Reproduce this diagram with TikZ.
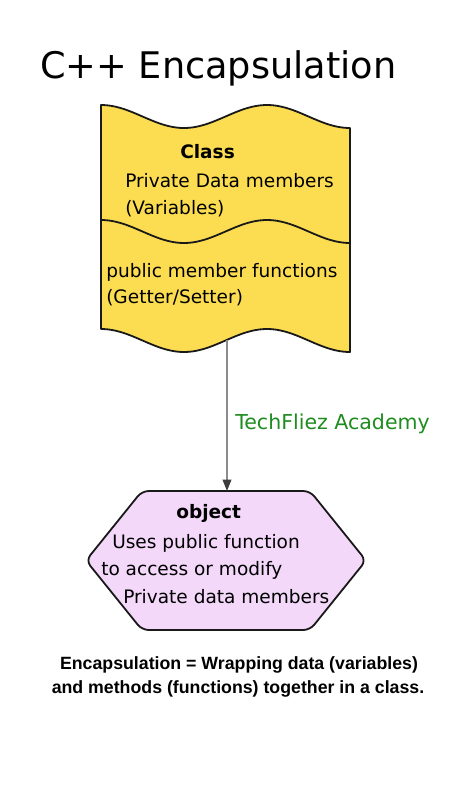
\documentclass[tikz,border=0pt]{standalone}
\usepackage{fontspec}
\setmainfont{DejaVu Sans}
\newfontfamily\libsans{Liberation Sans}
\usetikzlibrary{arrows.meta}
\definecolor{classfill}{RGB}{252,221,82}
\definecolor{objfill}{RGB}{243,216,250}
\definecolor{labelgreen}{RGB}{30,140,30}
\definecolor{linkgray}{RGB}{140,140,140}
\definecolor{tipgray}{RGB}{60,60,60}
\begin{document}
\begin{tikzpicture}[x=0.75pt,y=-0.75pt,
  txt/.style={anchor=base west,inner sep=0pt,font=\fontsize{13.9}{16}\selectfont},
  btxt/.style={txt,font=\bfseries\fontsize{13.9}{16}\selectfont},
  shapeline/.style={draw=black!90,line width=1.35pt,line join=round},
  foot/.style={anchor=base,inner sep=0pt,font=\libsans\bfseries\fontsize{13.3}{16}\selectfont},
  link/.style={draw=linkgray,line width=1.1pt,-{Triangle[length=8.5pt,width=6.5pt,color=tipgray]}}]
\useasboundingbox (0,0) rectangle (474,790);
% title
\node[anchor=base west,inner sep=0pt,font=\fontsize{27.5}{32}\selectfont] (title) at (40,78) {C++ Encapsulation};
% class shape
\path[fill=classfill,shapeline]
  plot[domain=101:350,samples=80] (\x,{105+11.5*(1-cos(2.1687*(\x-101)))})
  -- plot[domain=350:101,samples=80] (\x,{329+11.5*(1-cos(2.1687*(\x-101)))})
  -- cycle;
\draw[shapeline] plot[domain=101:350,samples=80] (\x,{220+11.5*(1-cos(2.1687*(\x-101)))});
\node[btxt] (cls) at (180,158) {Class};
\node[txt] (priv1) at (125,187) {Private Data members};
\node[txt] (priv2) at (125,214) {(Variables)};
\node[txt] (pub1) at (106,277) {public member functions};
\node[txt] (pub2) at (106,303) {(Getter/Setter)};
% object hexagon
\path[fill=objfill,shapeline,rounded corners=5pt]
  (226,491) -- (310,491) -- (366,560.5) -- (310,630) -- (142,630) -- (86,560.5) -- (142,491) -- cycle;
\node[btxt] (obj) at (176,518) {object};
\node[txt] (o1) at (112,548) {Uses public function};
\node[txt] (o2) at (101,575) {to access or modify};
\node[txt] (o3) at (123,603) {Private data members};
% connector
\coordinate (classbot) at (227,340);
\coordinate (objtop) at (227,491);
\draw[link] (classbot) -- (objtop);
\node[anchor=base west,inner sep=0pt,font=\fontsize{15.4}{18}\selectfont,text=labelgreen] (lbl) at (235,429) {TechFliez Academy};
% footer
\node[foot] (f1) at (239,669) {Encapsulation = Wrapping data (variables)};
\node[foot] (f2) at (238,693) {and methods (functions) together in a class.};
\end{tikzpicture}
\end{document}
